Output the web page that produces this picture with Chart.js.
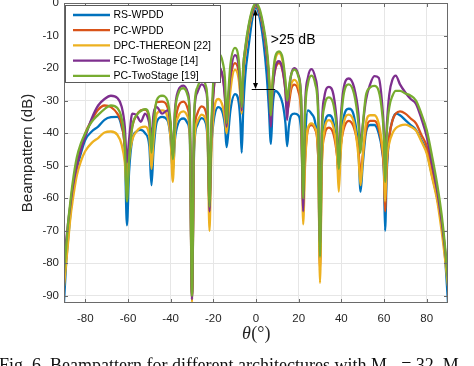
<!DOCTYPE html>
<html><head><meta charset="utf-8">
<script src="https://cdn.jsdelivr.net/npm/chart.js@4.4.0/dist/chart.umd.min.js"></script>
<style>html,body{margin:0;padding:0;background:#fff;overflow:hidden}canvas{display:block}</style>
</head><body>
<canvas id="c" width="474" height="366"></canvas>
<script>
// ---- data (theta in degrees, beampattern in dB) ----
const angles = [
  -90, -89, -88, -87, -86, -84, -82, -80, -77, -74, -71, -68, -65, -63, -61.5, -60.5,
  -59.5, -58, -56, -54, -52, -50, -49,
  -48, -46.5, -44, -41.5, -40, -39,
  -38, -36.5, -34, -32, -31, -30,
  -29, -27.5, -25.5, -23.5, -22.7, -21.8,
  -21, -20, -17.7, -15.5, -14.5, -13.8,
  -13, -12, -9.8, -8, -7.3, -6.7,
  -6, -5, -3.5, -2, -1, 0, 1, 2, 3.5, 5, 6, 7,
  7.8, 9, 10.8, 12.5, 13.8, 14.6,
  15.4, 16.5, 18, 19.8, 21.2, 22.1,
  23, 24.3, 26, 27.8, 29.2, 30,
  30.8, 32, 34.2, 36.4, 38, 38.8,
  39.7, 41, 43.5, 46, 48, 49,
  50, 51.5, 53.5, 55.5, 57.5, 59, 60, 60.5,
  61.3, 62.5, 64, 65.5, 67.5, 70, 72.5, 75, 77.5, 80, 82.5, 85, 87, 88.5, 90
];
const rsWpdd = [
  -92, -80, -72, -65, -59, -51, -46, -42, -39.5, -38, -35.9, -35.1, -35, -38, -45, -68.3,
  -52, -42, -39.5, -39, -40, -44, -56,
  -45, -36.5, -35, -36, -42, -52,
  -42, -37, -35.5, -37, -42, -91,
  -45, -37.5, -35.4, -37, -42, -60,
  -45, -37, -32, -34, -38, -44.3,
  -40, -33, -28, -31, -37, -46,
  -33, -22, -13.5, -6, -2.5, -1.3, -2.5, -5.5, -12, -22, -32, -43.3,
  -32, -27, -28, -31, -37, -44,
  -38, -34.5, -34, -34.5, -40, -58,
  -42, -33, -34, -37, -48, -80,
  -48, -38, -34.5, -37, -46, -54,
  -44, -35.5, -32.5, -35, -45, -58,
  -50, -40, -37.5, -37.5, -40, -45, -53, -70,
  -52, -41, -36, -34, -34.5, -36, -37.5, -39, -42, -45.6, -53, -60, -68, -77, -92
];
const pcWpdd = [
  -86, -78, -70, -63, -58, -50, -44.5, -40, -36, -32.8, -31.5, -32, -34, -37, -44, -55,
  -46, -38, -34.5, -33, -32.8, -36, -45,
  -36, -30.5, -30.3, -32, -38, -50,
  -38, -32, -30.3, -32.5, -39, -91,
  -42, -34, -31.8, -33.5, -39, -62,
  -40, -28, -20, -23, -29, -38,
  -33, -24, -18.5, -22, -28, -33.6,
  -22, -15.5, -8.5, -3.5, -1.5, -0.8, -1.5, -3.5, -8.5, -16, -23, -34,
  -26, -20.5, -18.5, -21, -27, -33,
  -31, -26.5, -25.1, -27, -35, -62,
  -48, -39, -37.5, -39, -48, -82,
  -50, -41, -38.3, -40.5, -47, -53,
  -44, -39, -36.2, -38.5, -45, -53,
  -47, -39, -36.2, -36.2, -38.5, -44, -52, -64,
  -50, -41, -36, -34, -33.3, -34, -35.5, -37, -40.5, -44, -52, -60, -68, -76, -85
];
const dpcThereon = [
  -87, -80, -73, -66, -61, -53, -48.5, -45.5, -43, -41.5, -39.8, -39.5, -40.5, -43.5, -49, -58,
  -48, -42, -39.5, -38.3, -38, -41, -51,
  -42, -34, -33, -35, -42, -55,
  -40, -35, -33.3, -35, -41, -92,
  -44, -36.5, -34.3, -36, -41, -70,
  -48, -35, -29.5, -32, -36, -40,
  -35, -27, -20.5, -24, -29, -34,
  -22, -15.5, -8.5, -3.5, -1.5, -0.7, -1.5, -3.5, -8, -15, -22, -33,
  -24, -17.5, -15.4, -18, -25, -32,
  -29, -25, -23.6, -25.5, -33, -68,
  -50, -38.5, -37, -38.5, -48, -86,
  -52, -39.5, -36, -38.5, -47, -58,
  -46, -37.5, -34.3, -37, -47, -56,
  -48, -37, -34.5, -34.5, -37, -43, -50, -61,
  -48, -43, -40, -38.5, -37.7, -37.4, -38, -39.2, -42.5, -46.2, -53.5, -61, -70, -78, -87
];
const fcTwoStage = [
  -78, -73, -67, -62, -57, -50, -45, -41, -35.5, -31.5, -29.5, -28.5, -29.2, -31.8, -38, -49,
  -42, -34, -34.5, -36.5, -34, -37, -41,
  -34, -32, -34, -33, -38, -47,
  -33, -27, -25.4, -27.5, -35, -91,
  -35, -27.5, -25, -27, -32, -64,
  -42, -28, -19.5, -23, -30, -38,
  -30, -22, -16, -20, -27, -33,
  -20, -14, -7.5, -3, -1.2, -0.3, -1.2, -3.2, -8, -15, -23, -38,
  -27, -20, -17.9, -20.5, -27, -36,
  -28, -22, -20, -22, -30, -64,
  -32, -23, -20.3, -23, -33, -75,
  -40, -29, -25.8, -28.5, -38, -50,
  -36, -26.5, -23.2, -26, -34, -44,
  -38, -30, -25, -22.5, -23, -30, -40, -51,
  -38, -28, -23.5, -22.3, -25, -27.5, -29.5, -31, -35.5, -41, -49.5, -58, -67, -75, -84
];
const pcTwoStage = [
  -83, -75, -67, -61, -55.5, -47.5, -43, -40, -36.5, -34.4, -32.6, -31.5, -32.3, -35.4, -43, -61,
  -48, -38, -34.5, -33.2, -32.6, -35, -46,
  -37, -29.8, -28.5, -30, -37, -48,
  -34, -28, -26.2, -28.5, -36, -90,
  -34, -26, -23.5, -25.5, -31, -62.6,
  -40, -24, -15.5, -18.5, -24, -37,
  -28, -19, -13.8, -18, -25, -32,
  -20, -13.5, -7, -2.5, -0.8, 0, -0.8, -2.5, -7, -13.5, -21, -34.6,
  -24, -16.5, -14.9, -17, -24, -30,
  -26, -22, -20.5, -22.5, -30, -60,
  -34, -25, -22.3, -25, -36, -78,
  -42, -32, -29, -31.5, -40, -51,
  -38, -28.5, -25, -28, -37, -46,
  -38, -28.5, -26, -25.5, -27, -33, -42, -55,
  -40, -32, -28.5, -27, -27, -27.8, -28.5, -30, -34, -39, -47, -56, -65, -74, -86
];
const seriesNames = ['RS-WPDD', 'PC-WPDD', 'DPC-THEREON [22]', 'FC-TwoStage [14]', 'PC-TwoStage [19]'];
const xTicks = [-80, -60, -40, -20, 0, 20, 40, 60, 80];
const yTicks = [0, -10, -20, -30, -40, -50, -60, -70, -80, -90];
const xTitleSymbol = 'θ';
const xTitleUnit = '(°)';
const yTitle = 'Beampattern (dB)';
const gapLabel = '>25 dB';
const gapArrow = {theta: -0.5, fromDb: -2, toDb: -26.4, barFrom: -2, barTo: 9};
const gapText = {theta: 6.9, db: -11.3};
const captionParts = ['Fig. 6. Beampattern for different architectures with M', 't', ' = 32, M'];

// ---- styling ----
const colors = ['#0072BD', '#D95319', '#EDB120', '#7E2F8E', '#77AC30'];
const SANS = '"Liberation Sans", Arial, Helvetica, sans-serif';
const SERIF = '"Liberation Serif", "Times New Roman", serif';
const seriesValues = [rsWpdd, pcWpdd, dpcThereon, fcTwoStage, pcTwoStage];

const datasets = seriesValues.map((vals, i) => ({
  label: seriesNames[i],
  data: angles.map((a, k) => ({x: a, y: vals[k]})),
  borderColor: colors[i],
  backgroundColor: colors[i],
  borderWidth: 2.3,
  pointRadius: 0,
  fill: false,
  cubicInterpolationMode: 'monotone',
  order: 5 - i
}));

const decor = {
  id: 'decor',
  afterDatasetsDraw(chart) {
    const {ctx, chartArea: a, scales: {x, y}} = chart;
    ctx.save();
    // axes box
    ctx.strokeStyle = '#6a6a6a';
    ctx.lineWidth = 1;
    ctx.strokeRect(a.left + 0.5, a.top + 0.5, a.right - a.left - 1, a.bottom - a.top - 1);
    ctx.beginPath();
    xTicks.forEach(v => {
      const px = Math.round(x.getPixelForValue(v)) + 0.5;
      ctx.moveTo(px, a.bottom); ctx.lineTo(px, a.bottom - 4);
      ctx.moveTo(px, a.top); ctx.lineTo(px, a.top + 4);
    });
    yTicks.forEach(v => {
      const py = Math.round(y.getPixelForValue(v)) + 0.5;
      ctx.moveTo(a.left, py); ctx.lineTo(a.left + 4, py);
      ctx.moveTo(a.right, py); ctx.lineTo(a.right - 4, py);
    });
    ctx.stroke();

    // gap annotation
    ctx.strokeStyle = '#000'; ctx.fillStyle = '#000'; ctx.lineWidth = 1;
    const ax = Math.round(x.getPixelForValue(gapArrow.theta)) + 0.5;
    const y1 = y.getPixelForValue(gapArrow.fromDb);
    const y2 = y.getPixelForValue(gapArrow.toDb);
    ctx.beginPath(); ctx.moveTo(ax, y1 + 4); ctx.lineTo(ax, y2 - 4); ctx.stroke();
    ctx.beginPath(); ctx.moveTo(ax, y1); ctx.lineTo(ax - 2.5, y1 + 6); ctx.lineTo(ax + 2.5, y1 + 6); ctx.closePath(); ctx.fill();
    ctx.beginPath(); ctx.moveTo(ax, y2); ctx.lineTo(ax - 2.5, y2 - 6); ctx.lineTo(ax + 2.5, y2 - 6); ctx.closePath(); ctx.fill();
    const by = Math.round(y2) + 0.5;
    ctx.beginPath(); ctx.moveTo(x.getPixelForValue(gapArrow.barFrom), by); ctx.lineTo(x.getPixelForValue(gapArrow.barTo), by); ctx.stroke();
    ctx.font = '14px ' + SANS;
    ctx.textBaseline = 'middle'; ctx.textAlign = 'left';
    ctx.fillText(gapLabel, x.getPixelForValue(gapText.theta), y.getPixelForValue(gapText.db));

    // legend box
    const lx = a.left + 1, ly = a.top + 2, lw = 155, lh = 77;
    ctx.fillStyle = '#fff';
    ctx.fillRect(lx, ly, lw, lh);
    ctx.strokeStyle = '#5a5a5a';
    ctx.strokeRect(lx + 0.5, ly + 0.5, lw, lh);
    ctx.font = '10.5px ' + SANS;
    ctx.textBaseline = 'middle';
    chart.data.datasets.forEach((ds, i) => {
      const ry = ly + 10 + i * 15.2;
      ctx.strokeStyle = ds.borderColor; ctx.lineWidth = 2.3;
      ctx.beginPath(); ctx.moveTo(lx + 8, ry); ctx.lineTo(lx + 45, ry); ctx.stroke();
      ctx.fillStyle = '#000';
      ctx.fillText(ds.label, lx + 48.5, ry + 0.5);
    });
    ctx.restore();
  },
  afterDraw(chart) {
    const {ctx, chartArea: a} = chart;
    ctx.save();
    ctx.fillStyle = '#262626';
    // y title
    ctx.translate(28, (a.top + a.bottom) / 2);
    ctx.rotate(-Math.PI / 2);
    ctx.font = '15px ' + SANS;
    ctx.textAlign = 'center'; ctx.textBaseline = 'middle';
    ctx.fillText(yTitle, 0, 0);
    ctx.restore();
    // x title
    ctx.save();
    ctx.fillStyle = '#262626';
    ctx.textBaseline = 'alphabetic'; ctx.textAlign = 'left';
    const f1 = 'italic 18px ' + SERIF, f2 = '18px ' + SERIF;
    ctx.font = f1; const w1 = ctx.measureText(xTitleSymbol).width;
    ctx.font = f2; const w2 = ctx.measureText(xTitleUnit).width;
    const cx = (a.left + a.right) / 2 - (w1 + w2) / 2;
    ctx.font = f1; ctx.fillText(xTitleSymbol, cx, 339);
    ctx.font = f2; ctx.fillText(xTitleUnit, cx + w1 + 0.5, 339);
    // caption (cut by the bottom edge, as in the reference)
    ctx.fillStyle = '#111';
    ctx.font = '18px ' + SERIF;
    let cxp = -1;
    ctx.fillText(captionParts[0], cxp, 370.5);
    cxp += ctx.measureText(captionParts[0]).width;
    ctx.font = 'italic 13px ' + SERIF;
    ctx.fillText(captionParts[1], cxp + 1, 375);
    cxp += ctx.measureText(captionParts[1]).width + 6;
    ctx.font = '18px ' + SERIF;
    ctx.fillText(captionParts[2], cxp, 370.5);
    ctx.restore();
  }
};

new Chart(document.getElementById('c'), {
  type: 'line',
  data: {datasets},
  options: {
    responsive: false,
    animation: false,
    devicePixelRatio: 1,
    layout: {padding: {left: 0, top: 3, right: 26, bottom: 0}},
    plugins: {legend: {display: false}, tooltip: {enabled: false}},
    scales: {
      x: {
        type: 'linear', min: -90, max: 90,
        afterBuildTicks: s => { s.ticks = xTicks.map(v => ({value: v})); },
        afterFit: s => { s.height = 63; s.paddingLeft = 0; s.paddingRight = 0; },
        grid: {color: '#e6e6e6', drawTicks: false},
        border: {display: false},
        ticks: {color: '#262626', font: {family: SANS, size: 11.5}, padding: 9, maxRotation: 0, autoSkip: false,
                callback: v => String(v)}
      },
      y: {
        type: 'linear', min: -92.2, max: 0,
        afterBuildTicks: s => { s.ticks = yTicks.map(v => ({value: v})); },
        afterFit: s => { s.width = 64; s.paddingTop = 0; s.paddingBottom = 0; },
        grid: {color: '#e6e6e6', drawTicks: false},
        border: {display: false},
        ticks: {color: '#262626', font: {family: SANS, size: 11.5}, padding: 5, autoSkip: false,
                callback: v => String(v)}
      }
    }
  },
  plugins: [decor]
});
</script>
</body></html>
